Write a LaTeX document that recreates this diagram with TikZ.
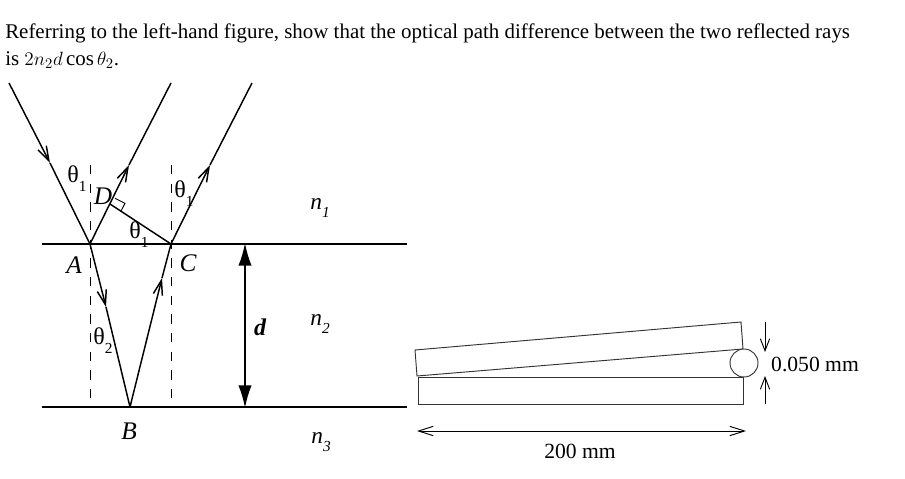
\documentclass[tikz,border=0pt]{standalone}
\usepackage{fontspec}
\setmainfont{Liberation Serif}
\usetikzlibrary{arrows.meta}

\newcommand{\lowsub}[1]{\raisebox{-0.8ex}{\fontsize{11.5}{11.5}\selectfont #1}}

\tikzset{
  prose/.style={anchor=west,inner sep=0pt,font=\fontsize{15.7}{17}\selectfont},
  lab/.style={inner sep=0pt,font=\fontsize{19}{20}\selectfont\itshape},
  ang/.style={inner sep=0pt,font=\fontsize{18}{19}\selectfont},
  dim/.style={inner sep=0pt,font=\fontsize{16.2}{17}\selectfont},
  ray/.style={line width=1.1pt,-{Straight Barb[length=11pt,width=11pt,angle'=35]}},
  rayend/.style={line width=1.1pt},
  normal/.style={line width=0.65pt,dash pattern=on 7pt off 7pt},
  surface/.style={line width=1.3pt},
  gap/.style={line width=1.4pt,{Latex[length=17pt,width=10pt]}-{Latex[length=17pt,width=10pt]}},
  plate/.style={line width=0.7pt,draw=black!80},
  thin arrow/.style={line width=0.7pt,-{Straight Barb[length=9pt,width=7pt]}},
  long arrow/.style={line width=0.7pt,{Straight Barb[length=11pt,width=7pt]}-{Straight Barb[length=11pt,width=7pt]}}
}

\begin{document}
\begin{tikzpicture}[x=0.75pt,y=-0.75pt]
\useasboundingbox (0,0) rectangle (905,478);

\node[prose] (lineone) at (5,33) {Referring to the left-hand figure, show that the optical path difference between the two reflected rays};
\node[prose] (linetwo) at (5,60) {is $2n_2d\cos\theta_2$.};

% points of the left figure
\coordinate (A) at (90,244);
\coordinate (C) at (171,244);
\coordinate (B) at (130,407);
\coordinate (D) at (110,204);
\coordinate (inray) at (9,83);
\coordinate (inmid) at (50,163);
\coordinate (outone) at (171,83);
\coordinate (outonemid) at (129,165);
\coordinate (outtwo) at (252,83);
\coordinate (outtwomid) at (210,165);
\coordinate (downmid) at (106,307);
\coordinate (upmid) at (162,278);
\coordinate (surfaL) at (42,244);
\coordinate (surfaR) at (407,244);
\coordinate (surfbL) at (42,407);
\coordinate (surfbR) at (407,407);
\coordinate (normalA) at (90,165);
\coordinate (normalAb) at (90,407);
\coordinate (normalC) at (171,165);
\coordinate (normalCb) at (171,407);
\coordinate (gaptop) at (245,243);
\coordinate (gapbot) at (245,408);

\draw[surface] (surfaL) -- (surfaR);
\draw[surface] (surfbL) -- (surfbR);
\draw[normal] (normalA) -- (normalAb);
\draw[normal] (normalC) -- (normalCb);

\draw[ray] (inray) -- (inmid);
\draw[rayend] (inmid) -- (A);
\draw[ray] (A) -- (outonemid);
\draw[rayend] (outonemid) -- (outone);
\draw[ray] (C) -- (outtwomid);
\draw[rayend] (outtwomid) -- (outtwo);
\draw[ray] (A) -- (downmid);
\draw[rayend] (downmid) -- (B);
\draw[ray] (B) -- (upmid);
\draw[rayend] (upmid) -- (C);

\draw[rayend] (D) -- (C);
\draw[line width=0.7pt] (115,198.3) -- (125,203.3) -- (120.7,211.7);
\draw[gap] (gaptop) -- (gapbot);

\node[ang] (thetaone) at (77,179) {θ\lowsub{1}};
\node[ang] (thetatwo) at (139,235) {θ\lowsub{1}};
\node[ang] (thetathree) at (184,194) {θ\lowsub{1}};
\node[ang] (thetafour) at (103,341) {θ\lowsub{2}};

\node[lab] (labA) at (74,265) {A};
\node[lab] (labB) at (129,431) {B};
\node[lab] (labC) at (188,263) {C};
\node[lab] (labD) at (103,196) {D};
\node[lab,font=\fontsize{18}{19}\selectfont\bfseries\itshape] (labd) at (260,327) {d};
\node[lab,font=\fontsize{17.5}{19}\selectfont\itshape] (nOne) at (320,208) {n\lowsub{1}};
\node[lab,font=\fontsize{17.5}{19}\selectfont\itshape] (nTwo) at (320,324) {n\lowsub{2}};
\node[lab,font=\fontsize{17.5}{19}\selectfont\itshape] (nThree) at (321,442) {n\lowsub{3}};

% wedge on the right
\coordinate (plateTL) at (415,350);
\coordinate (plateTR) at (741,322);
\coordinate (plateBR) at (743,349);
\coordinate (plateBL) at (417,376);
\coordinate (baseTL) at (418,377);
\coordinate (baseTR) at (743,377);
\coordinate (baseBR) at (743,404);
\coordinate (baseBL) at (418,404);
\coordinate (spantop) at (765,322);
\coordinate (spantopend) at (765,352);
\coordinate (spanbot) at (765,404);
\coordinate (spanbotend) at (765,376);
\coordinate (lenL) at (417,431);
\coordinate (lenR) at (746,431);

\draw[plate] (plateTL) -- (plateTR) -- (plateBR) -- (plateBL) -- cycle;
\draw[plate] (baseTL) -- (baseTR) -- (baseBR) -- (baseBL) -- cycle;
\node[plate,draw,circle,minimum size=21pt,inner sep=0pt,fill=white] (spacer) at (744,363) {};
\draw[thin arrow] (spantop) -- (spantopend);
\draw[thin arrow] (spanbot) -- (spanbotend);
\draw[long arrow] (lenL) -- (lenR);

\node[dim] (height) at (815,364) {0.050 mm};
\node[dim] (length) at (580,451) {200 mm};
\end{tikzpicture}
\end{document}
